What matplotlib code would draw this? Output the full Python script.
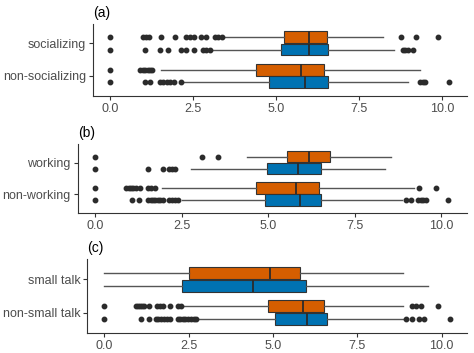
import matplotlib
matplotlib.use("Agg")
import matplotlib.pyplot as plt

plt.rcParams["font.family"] = ["Liberation Sans", "DejaVu Sans"]

ORANGE = "#D55E00"
BLUE = "#0072B2"

# boxes: (whisker low, q1, median, q3, whisker high), one per category (top first)
a_cats = ["socializing", "non-socializing"]
a_orange_box = [(3.45, 5.25, 5.98, 6.52, 8.22), (1.53, 4.38, 5.74, 6.44, 9.34)]
a_orange_out = [
    [0.0, 0.98, 1.08, 1.16, 1.53, 1.96, 2.28, 2.40, 2.53, 2.75, 2.88, 3.16, 3.26, 3.36, 8.76, 9.22, 9.87],
    [0.0, 0.90, 0.98, 1.05, 1.13, 1.20, 1.27],
]
a_blue_box = [(3.03, 5.15, 6.00, 6.56, 8.54), (2.21, 4.78, 5.86, 6.55, 8.97)]
a_blue_out = [
    [0.0, 1.06, 1.51, 1.73, 2.13, 2.28, 2.53, 2.81, 2.88, 3.00, 8.82, 8.89, 8.97, 9.12],
    [0.0, 1.06, 1.21, 1.51, 1.60, 1.70, 1.81, 1.93, 2.13, 9.34, 9.42, 9.49, 10.22],
]

b_cats = ["working", "non-working"]
b_orange_box = [(4.39, 5.53, 6.19, 6.78, 8.56), (1.94, 4.66, 5.81, 6.48, 9.23)]
b_orange_out = [
    [0.0, 3.08, 3.55],
    [0.0, 0.90, 0.97, 1.03, 1.10, 1.17, 1.29, 1.51, 1.61, 1.73, 9.35, 9.86],
]
b_blue_box = [(2.76, 4.97, 5.86, 6.54, 8.39), (2.52, 4.92, 5.91, 6.54, 8.88)]
b_blue_out = [
    [0.0, 1.53, 1.96, 2.13, 2.21, 2.29],
    [0.0, 1.05, 1.27, 1.53, 1.60, 1.67, 1.73, 1.80, 1.87, 1.95, 2.13, 2.23, 2.31, 2.39,
     8.98, 9.13, 9.33, 9.42, 9.48, 9.57, 10.21],
]

c_cats = ["small talk", "non-small talk"]
c_orange_box = [(0.0, 2.51, 4.92, 5.81, 8.86), (2.34, 4.85, 5.90, 6.50, 8.84)]
c_orange_out = [
    [],
    [0.0, 0.92, 0.98, 1.04, 1.10, 1.16, 1.31, 1.55, 1.65, 1.73, 1.95, 2.19, 2.26,
     9.11, 9.23, 9.38, 9.89],
]
c_blue_box = [(0.0, 2.31, 4.41, 5.98, 9.58), (2.78, 5.05, 6.00, 6.60, 8.85)]
c_blue_out = [
    [],
    [0.0, 1.08, 1.31, 1.53, 1.60, 1.67, 1.75, 1.85, 1.95, 2.17, 2.25, 2.33, 2.40,
     2.48, 2.56, 2.64, 2.72, 8.95, 9.13, 9.34, 9.47, 10.24],
]

panels = [
    ("(a)", a_cats, a_orange_box, a_orange_out, a_blue_box, a_blue_out),
    ("(b)", b_cats, b_orange_box, b_orange_out, b_blue_box, b_blue_out),
    ("(c)", c_cats, c_orange_box, c_orange_out, c_blue_box, c_blue_out),
]

# axes rectangles in pixels: left, top, bottom
rects = [(93.3, 23.7, 95.6), (77.7, 143.9, 212.8), (87.3, 259.3, 332.7)]
W, H = 474, 353
RIGHT = 467


def make_stats(boxes, outs):
    stats = []
    for (lo, q1, med, q3, hi), fl in zip(boxes, outs):
        stats.append(dict(whislo=lo, q1=q1, med=med, q3=q3, whishi=hi, fliers=fl))
    return stats


fig = plt.figure(figsize=(W / 100, H / 100), dpi=100)

for (title, cats, ob, oo, bb, bo), (lx, top, bot) in zip(panels, rects):
    ax = fig.add_axes([lx / W, 1 - bot / H, (RIGHT - lx) / W, (bot - top) / H])
    n = len(cats)
    pos = [n - i for i in range(n)]
    for stats, color, off in [(make_stats(ob, oo), ORANGE, 0.19), (make_stats(bb, bo), BLUE, -0.19)]:
        ax.bxp(
            stats,
            positions=[p + off for p in pos],
            widths=0.36,
            orientation="horizontal",
            patch_artist=True,
            showcaps=False,
            boxprops=dict(facecolor=color, edgecolor="#333333", linewidth=0.8),
            medianprops=dict(color="#2b2b2b", linewidth=1.3),
            whiskerprops=dict(color="#555555", linewidth=1.0),
            flierprops=dict(marker="o", markersize=3.2, markerfacecolor="#2b2b2b",
                            markeredgecolor="#2b2b2b", linestyle="none"),
        )
    ax.set_xlim(-0.51, 10.75)
    ax.set_ylim(0.4, n + 0.6)
    ax.set_yticks(pos)
    ax.set_yticklabels(cats)
    ax.set_xticks([0, 2.5, 5, 7.5, 10])
    ax.set_xticklabels(["0.0", "2.5", "5.0", "7.5", "10.0"])
    for s in ["top", "right"]:
        ax.spines[s].set_visible(False)
    for s in ["left", "bottom"]:
        ax.spines[s].set_color("#333333")
        ax.spines[s].set_linewidth(0.8)
    ax.tick_params(labelsize=9, colors="#333333", labelcolor="#4D4D4D", length=3, width=0.8, pad=2)
    ax.set_title(title, loc="left", fontsize=10, pad=5)

fig.savefig("out.png", dpi=100)
